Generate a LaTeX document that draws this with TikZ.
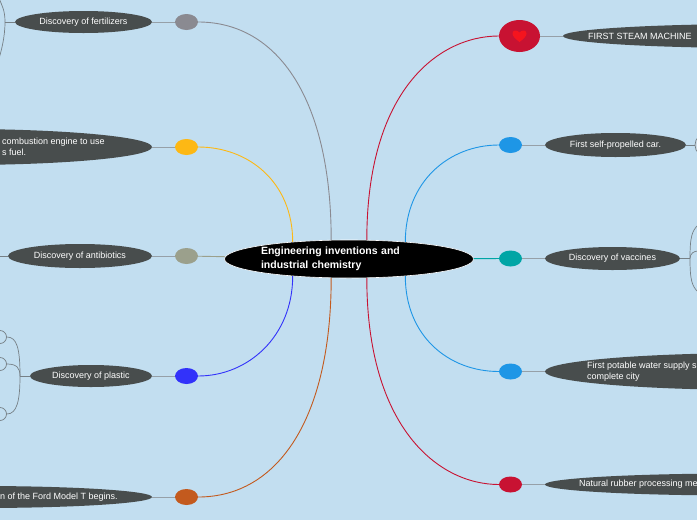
\documentclass[tikz,border=0pt]{standalone}
\usepackage{fontspec}
\setmainfont{Liberation Sans}
\usetikzlibrary{shapes.geometric}

\definecolor{bgblue}{RGB}{194,222,240}
\definecolor{ovalgray}{RGB}{72,77,77}
\definecolor{linegray}{RGB}{150,160,168}
\definecolor{twiggray}{RGB}{118,128,134}
\definecolor{fertgray}{RGB}{138,138,145}
\definecolor{fuelyellow}{RGB}{253,184,20}
\definecolor{antigray}{RGB}{155,160,140}
\definecolor{plasticblue}{RGB}{50,50,250}
\definecolor{fordorange}{RGB}{195,90,30}
\definecolor{steamred}{RGB}{200,18,50}
\definecolor{heartred}{RGB}{245,20,30}
\definecolor{carblue}{RGB}{30,150,230}
\definecolor{vacteal}{RGB}{0,165,165}
\definecolor{leaffill}{RGB}{205,220,230}

\begin{document}
\begin{tikzpicture}[
        x=1pt, y=-1pt,
        rootnode/.style={ellipse, draw=white, line width=0.6pt, fill=black, inner sep=0pt,
            text width=176pt, align=left, text=white,
            font=\fontsize{10.5}{14}\selectfont\bfseries,
            minimum width=246pt, minimum height=38pt},
        oval/.style={ellipse, fill=ovalgray, inner sep=0pt, text=white,
            font=\fontsize{9}{11}\selectfont, minimum height=22pt},
        ovaltext/.style={text=white, font=\fontsize{9}{11}\selectfont, inner sep=0pt,
            align=left, anchor=west},
        hub/.style={ellipse, inner sep=0pt, minimum width=23pt, minimum height=16pt, fill=#1},
        stem/.style={draw=#1, line width=0.9pt},
        link/.style={draw=linegray, line width=0.8pt},
        twig/.style={draw=twiggray, line width=0.7pt},
        leafring/.style={circle, draw=twiggray, line width=0.7pt, inner sep=0pt, minimum size=13pt}
    ]
        \useasboundingbox (0,0) rectangle (697,520);
        \fill[bgblue] (0,0) rectangle (697,520);
        \clip (0,0) rectangle (697,520);

        % Central topic
        \node[rootnode] (root) at (349,259) {Engineering inventions and\\industrial chemistry};

        % --- LEFT SIDE ---
        \node[hub=fertgray] (fertdot) at (186.5,22) {};
        \node[oval, minimum width=137pt] (fert) at (83.5,22) {Discovery of fertilizers};

        \node[hub=fuelyellow] (fueldot) at (186.5,147) {};
        \node[oval, minimum width=384pt, minimum height=36pt] (fuel) at (-40,147) {};
        \node[ovaltext] (fueltxt) at (2,147) {combustion engine to use\\s fuel.};

        \node[hub=antigray] (antidot) at (186.5,256) {};
        \node[oval, minimum width=144pt, minimum height=24pt] (anti) at (80,256) {Discovery of antibiotics};

        \node[hub=plasticblue] (plasticdot) at (186.5,376) {};
        \node[oval, minimum width=122pt] (plastic) at (91,376) {Discovery of plastic};

        \node[hub=fordorange] (forddot) at (186.5,497) {};
        \node[oval, minimum width=344pt] (ford) at (-20,497) {};
        \node[ovaltext] (fordtxt) at (0,497) {n of the Ford Model T begins.};

        % --- RIGHT SIDE ---
        \node[hub=steamred, minimum width=41pt, minimum height=32pt] (steamdot) at (519.5,36) {};
        \node[oval, minimum width=394pt, minimum height=24pt] (steam) at (760,36) {};
        \node[ovaltext] (steamtxt) at (588,36) {FIRST STEAM MACHINE};

        \node[hub=carblue] (cardot) at (510.5,145) {};
        \node[oval, minimum width=141pt, minimum height=24pt] (car) at (615.5,145) {First self-propelled car.};

        \node[hub=vacteal] (vacdot) at (510.5,258.5) {};
        \node[oval, minimum width=135pt, minimum height=23pt] (vac) at (612.5,258.5) {Discovery of vaccines};

        \node[hub=carblue] (waterdot) at (510.5,371.5) {};
        \node[oval, minimum width=430pt, minimum height=37pt] (water) at (760,371.5) {};
        \node[ovaltext] (watertxt) at (587,371.5) {First potable water supply s\\complete city};

        \node[hub=steamred] (rubberdot) at (510.5,484.5) {};
        \node[oval, minimum width=390pt] (rubber) at (740,484.5) {};
        \node[ovaltext] (rubbertxt) at (579,484.5) {Natural rubber processing me};

        % Heart in the steam hub
        \fill[heartred] (519.5,42) .. controls (515,38.5) and (512.5,36) .. (512.5,33.5)
            .. controls (512.5,30) and (517,29.5) .. (519.5,32.5)
            .. controls (522,29.5) and (526.5,30) .. (526.5,33.5)
            .. controls (526.5,36) and (524,38.5) .. (519.5,42) -- cycle;

        % --- BRANCHES FROM THE ROOT ---
        \draw[stem=fertgray] (root.133) .. controls +(0,-140) and +(80,0) .. (fertdot.east);
        \draw[stem=fuelyellow] (root.163) .. controls +(0,-60) and +(50,0) .. (fueldot.east);
        \draw[stem=antigray] (antidot) -- (root);
        \draw[stem=plasticblue] (root.197) .. controls +(0,60) and +(50,0) .. (plasticdot.east);
        \draw[stem=fordorange] (root.227) .. controls +(0,140) and +(80,0) .. (forddot.east);

        \draw[stem=steamred] (root.47) .. controls +(0,-150) and +(-60,0) .. (steamdot.west);
        \draw[stem=carblue] (root.17) .. controls +(0,-60) and +(-50,0) .. (cardot.west);
        \draw[stem=vacteal] (vacdot) -- (root);
        \draw[stem=carblue] (root.-17) .. controls +(0,60) and +(-50,0) .. (waterdot.west);
        \draw[stem=steamred] (root.-47) .. controls +(0,150) and +(-60,0) .. (rubberdot.west);

        % Hubs to topics
        \foreach \a/\b in {fertdot/fert, fueldot/fuel, antidot/anti, plasticdot/plastic, forddot/ford,
                steamdot/steam, cardot/car, vacdot/vac, waterdot/water, rubberdot/rubber} {
            \draw[link] (\a) -- (\b);
        }

        % --- SUBTOPICS (cut off at the edges) ---
        \coordinate (fertjoin) at (5,22);
        \coordinate (fertup) at (-1,-2);
        \coordinate (fertdown) at (-2,62);
        \draw[twig] (fert) -- (fertjoin);
        \draw[twig] (fertjoin) .. controls +(0,-12) and +(3,8) .. (fertup);
        \draw[twig] (fertjoin) .. controls +(0,16) and +(3,-10) .. (fertdown);

        \coordinate (antiend) at (-1,256);
        \draw[twig] (anti) -- (antiend);

        \coordinate (plasticjoin) at (20,376);
        \draw[twig] (plastic) -- (plasticjoin);
        \foreach \n/\y/\c in {a/337/-28, b/364/-8, c/414/25} {
            \node[leafring] (leaf\n) at (0,\y) {};
            \draw[twig] (plasticjoin) .. controls +(0,\c) and +(10,0) .. (leaf\n.east);
        }

        \node[leafring, fill=leaffill, minimum size=24pt] (carleaf) at (707,145) {};
        \draw[twig] (car) -- (carleaf);

        \coordinate (vacjoin) at (690,258.5);
        \coordinate (vacup) at (698,225);
        \coordinate (vacmid) at (698,251);
        \coordinate (vacdown) at (698,292);
        \draw[twig] (vac) -- (vacjoin);
        \draw[twig] (vacjoin) .. controls +(0,-22) and +(-6,6) .. (vacup);
        \draw[twig] (vacjoin) .. controls +(0,-5) and +(-4,0) .. (vacmid);
        \draw[twig] (vacjoin) .. controls +(0,22) and +(-6,-6) .. (vacdown);
    \end{tikzpicture}
\end{document}
